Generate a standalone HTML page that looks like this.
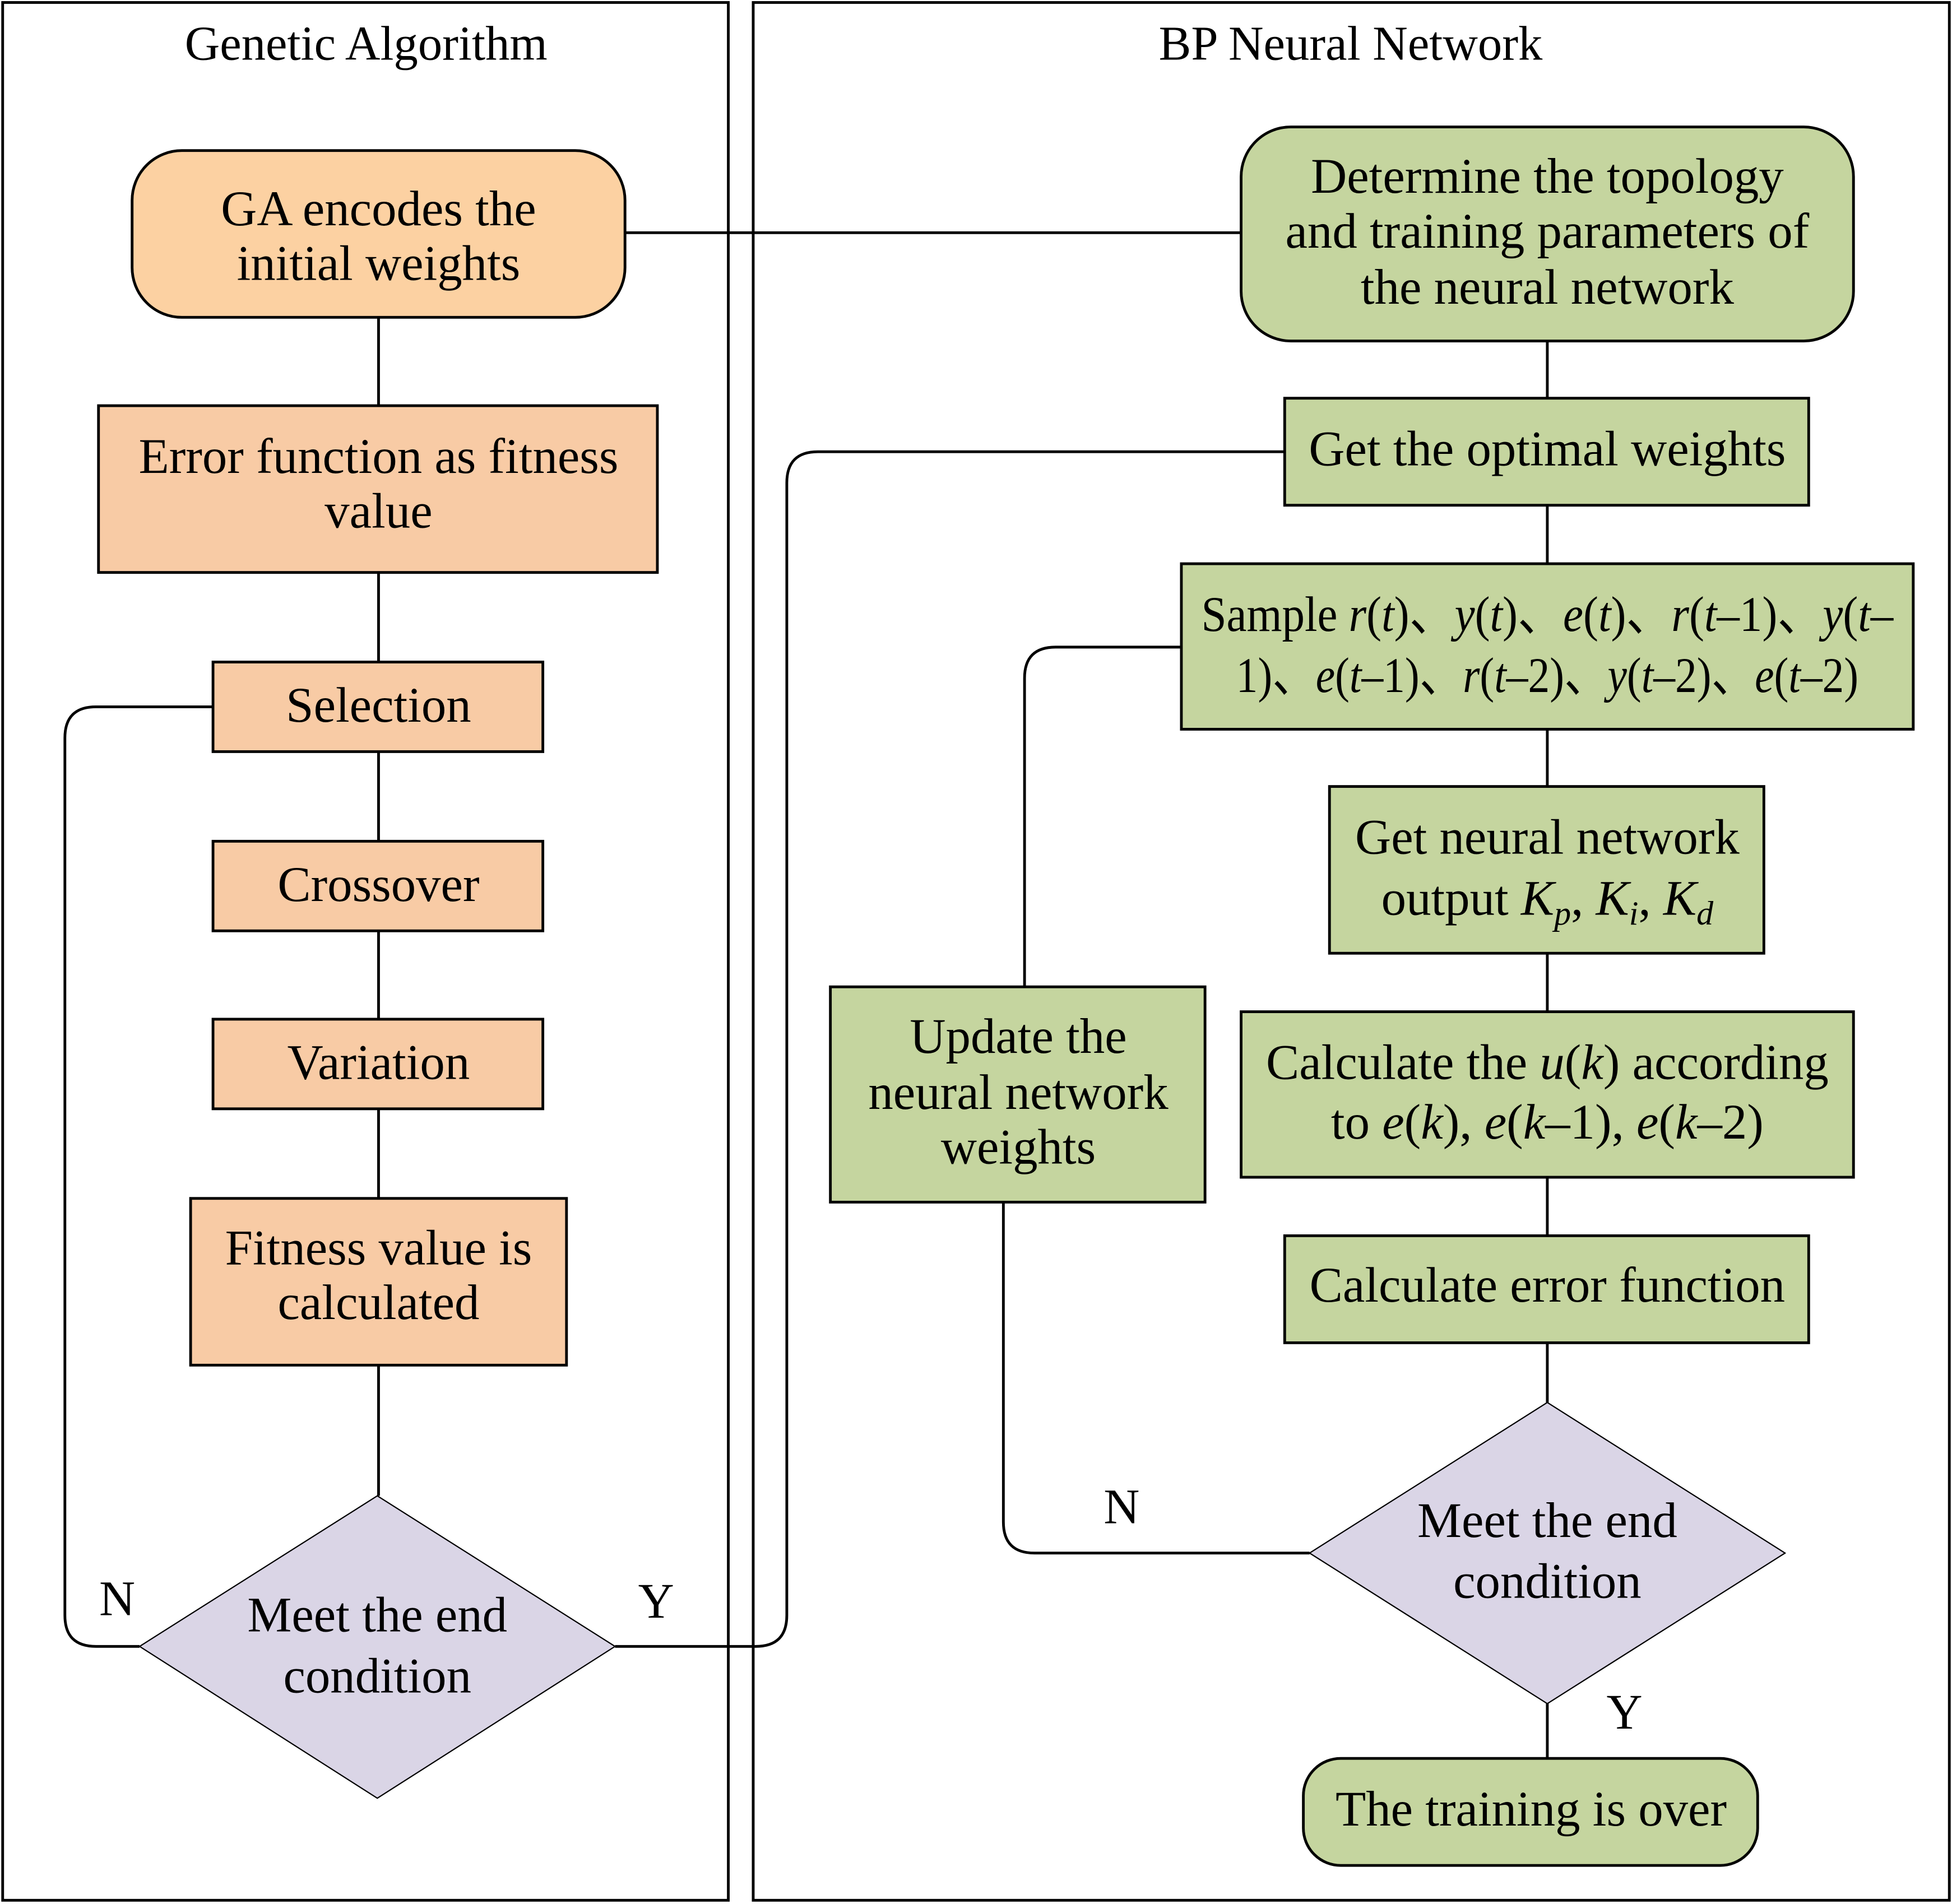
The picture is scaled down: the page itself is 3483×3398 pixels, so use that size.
<!DOCTYPE html>
<html><head><meta charset="utf-8"><style>html,body{margin:0;padding:0;background:#fff}svg{display:block}svg text{font-family:"Liberation Serif","Times New Roman",serif}</style></head>
<body>
<svg width="3483" height="3398" viewBox="0 0 1568 1530" xmlns="http://www.w3.org/2000/svg" font-size="40" text-anchor="middle">
<rect x="0" y="0" width="1568" height="1530" fill="#fff"/>
<g fill="none" stroke="#000" stroke-width="2.2">
<rect x="2" y="2" width="583" height="1525"/>
<rect x="605" y="2" width="961" height="1525"/>
<line x1="304" y1="255" x2="304" y2="1202"/>
<path d="M112 1323 H77 Q52 1323 52 1298 V593 Q52 568 77 568 H171"/>
<path d="M494 1323 H607 Q632 1323 632 1298 V388 Q632 363 657 363 H1032"/>
<line x1="502" y1="187" x2="997" y2="187"/>
<line x1="1243" y1="274" x2="1243" y2="1413"/>
<path d="M1052 1248 H831 Q806 1248 806 1223 V966"/>
<path d="M823 793 V545 Q823 520 848 520 H949"/>
</g>
<g stroke="#000" stroke-width="2.2">
<rect x="106" y="121" width="396" height="134" rx="40" fill="#FCD1A2"/>
<rect x="79" y="326" width="449" height="134" fill="#F8CBA5"/>
<rect x="171" y="532" width="265" height="72" fill="#F8CBA5"/>
<rect x="171" y="676" width="265" height="72" fill="#F8CBA5"/>
<rect x="171" y="819" width="265" height="72" fill="#F8CBA5"/>
<rect x="153" y="963" width="302" height="134" fill="#F8CBA5"/>
<rect x="997" y="102" width="492" height="172" rx="40" fill="#C5D59F"/>
<rect x="1032" y="320" width="421" height="86" fill="#C5D59F"/>
<rect x="949" y="453" width="588" height="133" fill="#C5D59F"/>
<rect x="1068" y="632" width="349" height="134" fill="#C5D59F"/>
<rect x="997" y="813" width="492" height="133" fill="#C5D59F"/>
<rect x="1032" y="993" width="421" height="86" fill="#C5D59F"/>
<rect x="667" y="793" width="301" height="173" fill="#C5D59F"/>
<rect x="1047" y="1413" width="365" height="86" rx="30" fill="#C5D59F"/>
</g>
<polygon points="112,1323 303,1202 494,1323 303,1445" fill="#DAD5E6" stroke="#000" stroke-width="1"/>
<polygon points="1052,1248 1243,1127 1434,1248 1243,1369" fill="#DAD5E6" stroke="#000" stroke-width="1"/>
<g fill="#000">
<text x="294" y="48" font-size="39">Genetic Algorithm</text>
<text x="1085" y="48" font-size="39">BP Neural Network</text>
<text x="304" y="181">GA encodes the</text>
<text x="304" y="225">initial weights</text>
<text x="304" y="380">Error function as fitness</text>
<text x="304" y="424">value</text>
<text x="304" y="580">Selection</text>
<text x="304" y="724">Crossover</text>
<text x="304" y="867">Variation</text>
<text x="304" y="1016">Fitness value is</text>
<text x="304" y="1060">calculated</text>
<text x="303" y="1311">Meet the end</text>
<text x="303" y="1360">condition</text>
<text x="94" y="1298">N</text>
<text x="527" y="1300">Y</text>
<text x="1243" y="155">Determine the topology</text>
<text x="1243" y="199">and training parameters of</text>
<text x="1243" y="244">the neural network</text>
<text x="1243" y="374">Get the optimal weights</text>
<text x="1243" y="507" textLength="556" lengthAdjust="spacingAndGlyphs">Sample <tspan font-style="italic">r</tspan>(<tspan font-style="italic">t</tspan>)、<tspan font-style="italic">y</tspan>(<tspan font-style="italic">t</tspan>)、<tspan font-style="italic">e</tspan>(<tspan font-style="italic">t</tspan>)、<tspan font-style="italic">r</tspan>(<tspan font-style="italic">t</tspan>–1)、<tspan font-style="italic">y</tspan>(<tspan font-style="italic">t</tspan>–</text>
<text x="1243" y="556" textLength="500" lengthAdjust="spacingAndGlyphs">1)、<tspan font-style="italic">e</tspan>(<tspan font-style="italic">t</tspan>–1)、<tspan font-style="italic">r</tspan>(<tspan font-style="italic">t</tspan>–2)、<tspan font-style="italic">y</tspan>(<tspan font-style="italic">t</tspan>–2)、<tspan font-style="italic">e</tspan>(<tspan font-style="italic">t</tspan>–2)</text>
<text x="1243" y="686">Get neural network</text>
<text x="1243" y="735">output <tspan font-style="italic">K<tspan font-size="27" dy="8">p</tspan></tspan><tspan dy="-8">, </tspan><tspan font-style="italic">K<tspan font-size="27" dy="8">i</tspan></tspan><tspan dy="-8">, </tspan><tspan font-style="italic">K<tspan font-size="27" dy="8">d</tspan></tspan></text>
<text x="1243" y="867">Calculate the <tspan font-style="italic">u</tspan>(<tspan font-style="italic">k</tspan>) according</text>
<text x="1243" y="915">to <tspan font-style="italic">e</tspan>(<tspan font-style="italic">k</tspan>), <tspan font-style="italic">e</tspan>(<tspan font-style="italic">k</tspan>–1), <tspan font-style="italic">e</tspan>(<tspan font-style="italic">k</tspan>–2)</text>
<text x="1243" y="1046">Calculate error function</text>
<text x="818" y="846">Update the</text>
<text x="818" y="891">neural network</text>
<text x="818" y="935">weights</text>
<text x="1243" y="1235">Meet the end</text>
<text x="1243" y="1284">condition</text>
<text x="901" y="1224">N</text>
<text x="1305" y="1389">Y</text>
<text x="1230" y="1467">The training is over</text>
</g>
</svg>
</body></html>
